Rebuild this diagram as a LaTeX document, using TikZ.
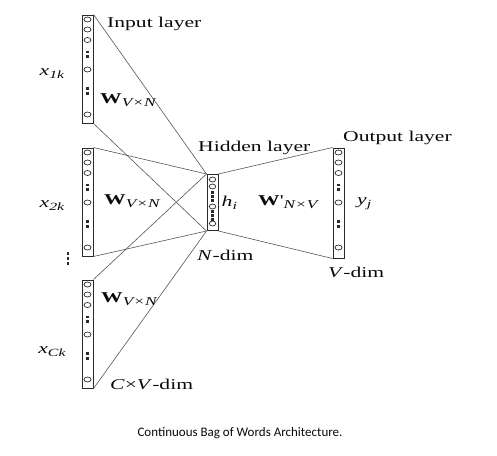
\documentclass[tikz,border=0pt]{standalone}
\usepackage{fontspec}
\usetikzlibrary{shapes.geometric, positioning}
\newfontfamily\diagfont{Liberation Serif}[FakeStretch=1.44]
\newfontfamily\capfont{Carlito}
\definecolor{cBox}{HTML}{2A2A2A}
\definecolor{cLine}{HTML}{555555}
\definecolor{cText}{HTML}{0A0A0A}
\newcommand{\lsub}[2][11]{\raisebox{-3pt}{\fontsize{#1}{#1}\selectfont\itshape #2}}
\tikzset{
  layerbox/.style = {
    rectangle,
    draw=cBox,
    line width=1pt,
    minimum width=11pt,
    inner sep=0
  },
  neuron/.style = {
    ellipse,
    draw=cBox,
    line width=0.7pt,
    minimum width=7pt,
    minimum height=5pt,
    inner sep=0
  },
  txt/.style = {
    text=cText,
    inner sep=0,
    font=\diagfont\fontsize{15}{18}\selectfont
  },
  caption/.style = {
    text=cText,
    inner sep=0,
    font=\capfont\fontsize{13}{16}\selectfont
  },
  line/.style = {
    draw,
    line width=0.6pt,
    color=cLine
  },
}
\begin{document}
\begin{tikzpicture}[x=1pt, y=-1pt]
    \useasboundingbox (0,0) rectangle (497,455);
    % layers
    \node [layerbox, minimum height=108pt] (in-1) at (87.5,69) {};
    \node [layerbox, minimum height=108pt] (in-2) at (87.5,202) {};
    \node [layerbox, minimum height=108pt] (in-3) at (87.5,334) {};
    \node [layerbox, minimum height=56pt] (hidden) at (212.5,202.5) {};
    \node [layerbox, minimum height=110pt] (out) at (338.5,203) {};
    % units inside the layers
    \foreach \b in {in-1,in-2,in-3,out} {
      \foreach \d in {5,15,25.5,55,100}
        \node [neuron] at ([yshift=-\d pt]\b.north) {};
      \foreach \d in {37.5,42,74,79}
        \fill [cBox] ([yshift=-\d pt]\b.north) +(-1.3,-1.3) rectangle +(1.3,1.3);
    }
    \foreach \d in {5.5,12.5,32.5,49.5}
      \node [neuron, minimum width=6.5pt] at ([yshift=-\d pt]hidden.north) {};
    \foreach \d in {18.5,22.5,26.5,37.5,41.5,45.5}
      \fill [cBox] ([yshift=-\d pt]hidden.north) +(-1.2,-1.2) rectangle +(1.2,1.2);
    \foreach \d in {253.5,258.5,263.5}
      \fill [cBox] (68,\d) +(-1.3,-1.3) rectangle +(1.3,1.3);
    % connections
    \foreach \b in {in-1,in-2,in-3} {
      \path [line] (\b.north east) -- (hidden.north west);
      \path [line] (\b.south east) -- (hidden.south west);
    }
    \path [line] (hidden.north east) -- (out.north west);
    \path [line] (hidden.south east) -- (out.south west);
    % labels
    \node [txt, anchor=west] (in-title) at (107,24) {Input layer};
    \node [txt] (x-1) at (52,74) {\textit{x}\lsub{1k}};
    \node [txt] (x-2) at (52,206) {\textit{x}\lsub{2k}};
    \node [txt] (x-c) at (52,352) {\textit{x}\lsub{Ck}};
    \node [txt, anchor=west] (w-1) at (100,100) {\textbf{W}\lsub[12]{V×N}};
    \node [txt, anchor=west] (w-2) at (104,201) {\textbf{W}\lsub[12]{V×N}};
    \node [txt, anchor=west] (w-3) at (101,299) {\textbf{W}\lsub[12]{V×N}};
    \node [txt, anchor=west] (c-dim) at (110,384) {\textit{C}×\textit{V}-dim};
    \node [txt, anchor=west] (hid-title) at (198,148) {Hidden layer};
    \node [txt, right=3pt of hidden] (h-i) {\textit{h}\lsub{i}};
    \node [txt, anchor=west] (n-dim) at (197,255) {\textit{N}-dim};
    \node [txt, anchor=west] (w-out) at (258,202) {\textbf{W}'\lsub[12]{N×V}};
    \node [txt, anchor=west] (out-title) at (343,138) {Output layer};
    \node [txt, anchor=west] (y-j) at (357,204) {\textit{y}\lsub{j}};
    \node [txt, anchor=west] (v-dim) at (328,272) {\textit{V}-dim};
    \node [caption] (cap) at (240,433) {Continuous Bag of Words Architecture.};
\end{tikzpicture}
\end{document}
